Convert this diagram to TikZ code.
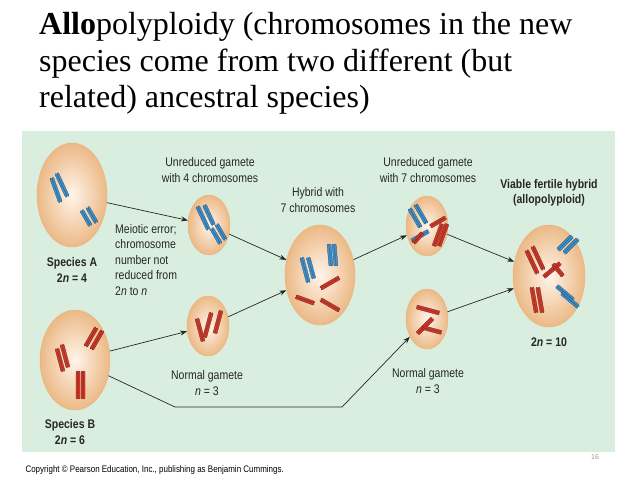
\documentclass[tikz,border=0pt]{standalone}
\usepackage{fontspec}
\setmainfont{Liberation Serif}
\newfontfamily\lsans[FakeStretch=0.84]{Liberation Sans}
\newfontfamily\csans{Liberation Sans}
\usetikzlibrary{arrows.meta}
\definecolor{bgc}{HTML}{D9EEDF}
\definecolor{chb}{HTML}{3D93D3}
\definecolor{chr}{HTML}{D5392A}
\newcommand\chrom[5]{\begin{scope}[shift={(#1,#2)},rotate=#3]
\fill[#5,draw=#5!55!black,line width=0.3pt,rounded corners=0.9pt] (-2.0,-#4) rectangle (-0.15,#4);
\fill[#5,draw=#5!55!black,line width=0.3pt,rounded corners=0.9pt] (0.15,-#4) rectangle (2.0,#4);
\end{scope}}
\tikzset{x=1pt,y=-1pt,
 cell/.style={ellipse,inner color=orange!8!white,outer color=orange!45!brown!55!white,draw=orange!50!brown!60!white,line width=0.4pt},
 lab/.style={font=\lsans\fontsize{12.5}{15.5}\selectfont,align=center,text=black!85,inner sep=1pt},
 blab/.style={lab,font=\lsans\bfseries\fontsize{12.5}{15.5}\selectfont},
 ttl/.style={anchor=west,font=\fontsize{32}{36}\selectfont,inner sep=0pt},
 arr/.style={-{Stealth[length=7pt,width=5pt]},line width=0.7pt,black!85}}
\usetikzlibrary{shapes.geometric}
\begin{document}
\begin{tikzpicture}
\useasboundingbox (0,0) rectangle (638,479);
\fill[white] (0,0) rectangle (638,479);
\fill[bgc] (22,131) rectangle (615,452);
\node[ttl] (t1) at (39,27) {\textbf{Allo}polyploidy (chromosomes in the new};
\node[ttl] (t2) at (39,64) {species come from two different (but};
\node[ttl] (t3) at (39,100) {related) ancestral species)};
% cells
\node[cell,minimum width=70pt,minimum height=104pt] (A) at (72,195) {};
\node[cell,minimum width=70pt,minimum height=100pt] (B) at (75,360) {};
\node[cell,minimum width=42pt,minimum height=60pt] (g4) at (209,225) {};
\node[cell,minimum width=42pt,minimum height=60pt] (n1) at (208,326) {};
\node[cell,minimum width=70pt,minimum height=100pt] (H) at (320,275) {};
\node[cell,minimum width=42pt,minimum height=60pt] (g7) at (427,226) {};
\node[cell,minimum width=42pt,minimum height=60pt] (n2) at (427,319) {};
\node[cell,minimum width=72pt,minimum height=102pt] (V) at (549,276) {};
% chromosomes
\chrom{56}{190}{20}{13}{chb}\chrom{62}{185}{25}{13}{chb}\chrom{86}{218}{30}{9}{chb}\chrom{92}{215}{30}{9}{chb}
\chrom{60}{360}{15}{12}{chr}\chrom{65}{356}{15}{12}{chr}\chrom{91}{337}{-30}{11}{chr}\chrom{78}{385}{0}{14}{chr}\chrom{83}{385}{0}{14}{chr}\chrom{97}{340}{-30}{11}{chr}
\chrom{203}{218}{25}{13}{chb}\chrom{209}{215}{25}{11}{chb}\chrom{216}{236}{30}{9}{chb}\chrom{221}{232}{30}{9}{chb}
\chrom{200}{330}{15}{12}{chr}\chrom{208}{325}{-15}{13}{chr}\chrom{218}{322}{-15}{12}{chr}
\chrom{305}{270}{15}{13}{chb}\chrom{311}{268}{15}{11}{chb}\chrom{330}{255}{5}{11}{chb}\chrom{335}{255}{5}{11}{chb}
\chrom{330}{283}{-60}{11}{chr}\chrom{305}{300}{70}{10}{chr}\chrom{330}{305}{60}{11}{chr}
\chrom{415}{218}{30}{11}{chb}\chrom{421}{214}{30}{11}{chb}\chrom{420}{236}{-60}{10}{chb}\chrom{438}{222}{-60}{9}{chr}\chrom{438}{235}{-20}{12}{chr}\chrom{443}{235}{-20}{12}{chr}\chrom{418}{238}{-40}{7}{chr}
\chrom{428}{310}{75}{12}{chr}\chrom{425}{326}{-45}{11}{chr}\chrom{432}{330}{75}{10}{chr}
\chrom{532}{262}{25}{13}{chr}\chrom{538}{258}{25}{13}{chr}\chrom{552}{270}{-50}{11}{chr}\chrom{534}{300}{10}{13}{chr}\chrom{540}{300}{10}{13}{chr}
\chrom{565}{243}{-45}{10}{chb}\chrom{571}{246}{-45}{10}{chb}\chrom{565}{293}{50}{11}{chb}\chrom{570}{300}{50}{11}{chb}\chrom{558}{270}{40}{8}{chr}
% arrows
\draw[arr] (A) -- (g4);
\draw[arr] (g4) -- (H);
\draw[arr] (B) -- (n1);
\draw[arr] (n1) -- (H);
\draw[arr] (H) -- (g7);
\draw[arr] (g7) -- (V);
\draw[arr] (n2) -- (V);
\coordinate (b1) at (175,407);
\coordinate (b2) at (342,407);
\draw[arr] (B) -- (b1) -- (b2) -- (n2);
% labels
\node[blab] (la) at (72,270) {Species A\\2\textit{n} = 4};
\node[blab] (lb) at (70,432) {Species B\\2\textit{n} = 6};
\node[lab] (l4) at (210,170) {Unreduced gamete\\with 4 chromosomes};
\node[lab,align=left,anchor=north west] (lm) at (114,223) {Meiotic error;\\chromosome\\number not\\reduced from\\2\textit{n} to \textit{n}};
\node[lab] (ln1) at (207,383) {Normal gamete\\\textit{n} = 3};
\node[lab] (lh) at (318,200) {Hybrid with\\7 chromosomes};
\node[lab] (l7) at (428,170) {Unreduced gamete\\with 7 chromosomes};
\node[blab] (lv) at (549,193) {Viable fertile hybrid\\(allopolyploid)};
\node[blab] (l10) at (549,342) {2\textit{n} = 10};
\node[lab] (ln2) at (428,381) {Normal gamete\\\textit{n} = 3};
\node[font=\csans\fontsize{7}{8}\selectfont,text=black!40] (pg) at (595,457) {16};
\node[anchor=west,font=\lsans\fontsize{9.5}{10}\selectfont] (cp) at (22,470) {Copyright \textcopyright{} Pearson Education, Inc., publishing as Benjamin Cummings.};
\end{tikzpicture}
\end{document}
